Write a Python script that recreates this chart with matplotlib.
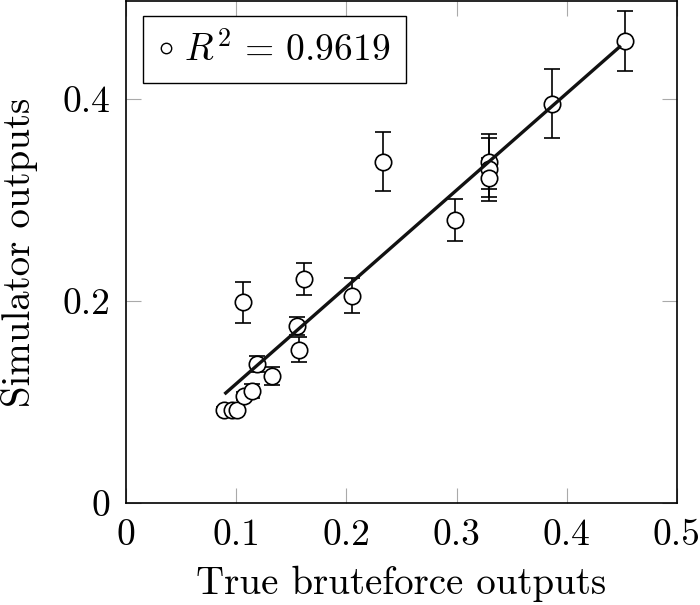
import numpy as np
import matplotlib
matplotlib.use("Agg")
import matplotlib.pyplot as plt

plt.rcParams['font.family'] = 'cmr10'
plt.rcParams['mathtext.fontset'] = 'cm'
plt.rcParams['axes.formatter.use_mathtext'] = True

# values
true_x = [0.0892, 0.0959, 0.1005, 0.1073, 0.1141, 0.1190, 0.1325, 0.1065,
          0.1555, 0.1570, 0.1618, 0.2048, 0.2330, 0.2983, 0.3297, 0.3297,
          0.3297, 0.3866, 0.4528]
sim_y = [0.0924, 0.0924, 0.0924, 0.1056, 0.1106, 0.1380, 0.1255, 0.1987,
         0.1750, 0.1520, 0.2218, 0.2053, 0.3383, 0.2805, 0.3383, 0.3305,
         0.3225, 0.3956, 0.4577]
sim_err = [0.003, 0.003, 0.003, 0.004, 0.007, 0.008, 0.009, 0.020,
           0.009, 0.012, 0.016, 0.0175, 0.029, 0.021, 0.027, 0.031,
           0.019, 0.034, 0.030]

# regression line end points
fit_x = [0.0905, 0.448]
fit_y = [0.109, 0.452]
r2_label = r'$R^2\,=\,0.9619$'

x_ticks = [0, 0.1, 0.2, 0.3, 0.4, 0.5]
x_tick_labels = ['0', '0.1', '0.2', '0.3', '0.4', '0.5']
y_ticks = [0, 0.2, 0.4]
y_tick_labels = ['0', '0.2', '0.4']

fig = plt.figure(figsize=(7, 6.05), dpi=100)
ax = fig.add_axes([0.18, 0.1686, 0.787, 0.829])

ax.errorbar(true_x, sim_y, yerr=sim_err, fmt='none', ecolor='black',
            elinewidth=1.2, capsize=5.6, capthick=1.2, zorder=2)
ax.plot(true_x, sim_y, 'o', ms=11.8, mfc='white', mec='black', mew=1.2,
        zorder=3)
ax.plot(fit_x, fit_y, '-', color='#111111', lw=2.4, zorder=4)

# legend handle only (small circle)
h, = ax.plot([], [], 'o', ms=7.5, mfc='white', mec='black', mew=1.0)
leg = ax.legend([h], [r2_label], loc='upper left',
                bbox_to_anchor=(0.031, 0.971), borderaxespad=0,
                fontsize=27, fancybox=False, framealpha=1,
                edgecolor='black', handlelength=0.4, handletextpad=0.3,
                borderpad=0.4)
leg.get_frame().set_linewidth(1.0)

ax.set_xlim(0, 0.5)
ax.set_ylim(0, 0.497)
ax.set_xticks(x_ticks)
ax.set_xticklabels(x_tick_labels)
ax.set_yticks(y_ticks)
ax.set_yticklabels(y_tick_labels)
ax.tick_params(direction='in', length=11, width=0.8, color='#aaaaaa',
               top=True, right=True, labelsize=27, pad=11)
for s in ax.spines.values():
    s.set_linewidth(1.2)

ax.set_xlabel('True bruteforce outputs', fontsize=28, labelpad=10)
ax.set_ylabel('Simulator outputs', fontsize=28, labelpad=18)

fig.savefig('out.png', dpi=100)
